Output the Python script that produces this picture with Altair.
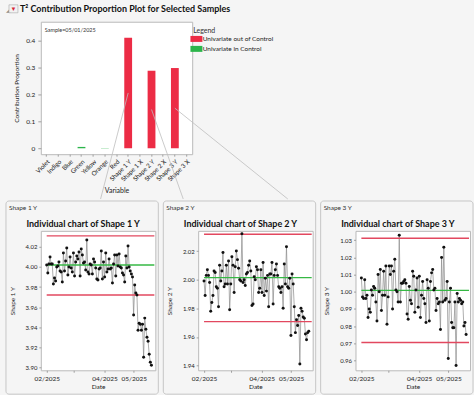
import altair as alt
import pandas as pd

# ---- contribution proportions for sample 05/01/2025 ----
variables = ["Violet", "Indigo", "Blue", "Green", "Yellow", "Orange", "Red",
             "Shape 1 Y", "Shape 1 X", "Shape 2 Y", "Shape 2 X", "Shape 3 Y", "Shape 3 X"]
contribution = [0, 0, 0, 0.005, 0, 0.001, 0, 0.411, 0, 0.288, 0, 0.298, 0]
status = ["Univariate in Control"] * 7 + [
    "Univariate out of Control", "Univariate in Control",
    "Univariate out of Control", "Univariate in Control",
    "Univariate out of Control", "Univariate in Control",
]
status_order = ["Univariate out of Control", "Univariate in Control"]

# ---- individual measurements (one per sample) ----
sample_dates = pd.date_range("2025-02-01", "2025-05-19", periods=95)

shape1_y = [
    4.002, 3.994, 4.003, 4.010, 4.003, 4.003, 3.983, 3.989, 3.986, 4.000,
    4.001, 4.005, 3.996, 3.995, 3.985, 4.014, 3.996, 4.006, 4.019, 3.992,
    4.000, 4.010, 3.999, 3.995, 4.014, 3.991, 4.005, 4.011, 4.008, 4.015,
    3.991, 4.018, 4.012, 4.004, 4.005, 3.997, 4.027, 3.995, 3.993, 4.003,
    4.002, 3.993, 4.008, 4.005, 3.999, 3.988, 3.987, 3.998, 3.999, 4.016,
    3.988, 4.005, 3.990, 4.014, 3.995, 3.998, 4.008, 3.998, 3.999, 3.984,
    4.003, 4.012, 3.991, 4.012, 4.001, 4.013, 4.000, 3.999, 3.994, 3.992,
    3.985, 4.011, 3.999, 4.021, 4.000, 3.996, 3.993, 3.990, 3.952, 3.982,
    3.974, 3.972, 3.937, 3.944, 3.943, 3.937, 3.943, 3.910, 3.949, 3.938,
    3.930, 3.926, 3.913, 3.905, 3.902,
]
shape2_y = [
    1.999, 1.989, 2.003, 2.007, 2.003, 1.998, 1.978, 1.984, 1.989, 2.006,
    2.005, 1.995, 1.994, 1.981, 2.010, 1.999, 2.006, 2.019, 1.995, 1.997,
    2.010, 1.997, 2.013, 1.979, 1.997, 2.016, 2.010, 1.991, 2.009, 2.020,
    2.014, 2.008, 2.000, 1.999, 2.032, 1.998, 2.000, 1.996, 2.004, 2.005,
    2.010, 2.013, 2.006, 1.982, 1.983, 2.002, 2.000, 2.009, 2.007, 1.991,
    1.994, 2.007, 1.991, 2.012, 1.989, 2.001, 1.992, 2.003, 1.981, 2.004,
    2.004, 2.012, 1.983, 2.003, 2.007, 2.011, 2.003, 1.995, 1.994, 1.991,
    1.995, 1.980, 2.011, 1.997, 2.023, 1.995, 1.994, 2.001, 1.961, 2.004,
    1.997, 1.981, 1.963, 1.972, 1.968, 1.975, 1.941, 1.980, 1.978, 1.974,
    1.973, 1.962, 1.958, 1.963, 1.964,
]
shape3_y = [
    1.008, 0.997, 0.996, 1.007, 0.996, 0.998, 0.985, 0.990, 0.988, 1.001,
    0.998, 1.003, 1.002, 0.994, 0.983, 1.010, 1.000, 1.013, 0.989, 0.998,
    1.012, 0.998, 1.015, 0.981, 0.997, 1.015, 1.010, 1.015, 0.990, 1.012,
    1.019, 1.001, 1.000, 0.994, 1.033, 0.994, 1.005, 1.005, 1.006, 1.007,
    1.005, 0.987, 0.984, 1.003, 0.995, 0.993, 1.012, 1.009, 0.988, 1.001,
    1.008, 0.991, 1.009, 0.985, 0.998, 1.006, 0.996, 0.993, 0.982, 1.007,
    1.002, 0.983, 1.006, 1.011, 1.013, 1.001, 1.002, 0.989, 0.996, 0.993,
    0.994, 0.978, 1.020, 0.994, 1.026, 0.995, 0.996, 1.006, 0.961, 0.994,
    1.002, 0.982, 0.979, 0.979, 0.994, 0.957, 0.999, 0.994, 0.996, 0.995,
    0.993, 0.994, 0.980, 0.982, 0.975,
]

# control limits: (LCL, centre, UCL)
shape1_limits = (3.972, 4.002, 4.031)
shape2_limits = (1.9707, 2.0014, 2.0317)
shape3_limits = (0.9704, 1.0008, 1.0312)

FONT = "Lato"
BAR_RED = "#ec2c45"
BAR_GREEN = "#2bb54a"
LIMIT_RED = "#e2485f"
LIMIT_GREEN = "#36b844"
INK = "#222222"
CONNECTOR = "#bdbdbd"

one_row = pd.DataFrame({"k": [0]})

# ---------------- contribution bar chart ----------------
TOP_W, TOP_H = 152, 133
contrib_df = pd.DataFrame({"Variable": variables, "Contribution": contribution, "Status": status})

x_var = alt.X(
    "Variable:N", sort=variables,
    scale=alt.Scale(paddingInner=0.33, paddingOuter=0.15),
    axis=alt.Axis(title="Variable", labelAngle=-45, labelFontSize=6.3, titleFontSize=7,
                  tickSize=2, labelPadding=2, titlePadding=4, labelOverlap=False,
                  titleX=TOP_W / 2, titleAlign="center"),
)
y_contrib = alt.Y(
    "Contribution:Q",
    scale=alt.Scale(domain=[-0.022, 0.47], nice=False, zero=False),
    axis=alt.Axis(title="Contribution Proportion", values=[0, 0.1, 0.2, 0.3, 0.4], format=".1~f",
                  labelFontSize=6.5, titleFontSize=6.5, tickSize=3, labelPadding=3, titlePadding=6,
                  labelOverlap=False),
)

bars = alt.Chart(contrib_df).mark_bar(opacity=1).encode(
    x=x_var,
    y=y_contrib,
    y2=alt.datum(0),
    color=alt.Color(
        "Status:N",
        scale=alt.Scale(domain=status_order, range=[BAR_RED, BAR_GREEN]),
        legend=alt.Legend(
            title="Legend", orient="none", legendX=153, legendY=5,
            titleFontSize=7, titleFontWeight="normal", titleColor="#333333", titlePadding=2,
            labelFontSize=6.5, labelColor=INK, labelOffset=3,
            symbolType="M-2,-1H2V1H-2Z", symbolSize=36, symbolStrokeWidth=0,
            symbolOpacity=1, rowPadding=3, padding=0,
        ),
    ),
)

# guide lines from each out-of-control bar (at half its height) to its individual chart
connector_ends = {"Shape 1 Y": (60, 178), "Shape 2 Y": (143, 178), "Shape 3 Y": (248, 178)}
connectors = []
for var_name, (ex, ey) in connector_ends.items():
    connectors.append(
        alt.Chart(contrib_df)
        .transform_filter(alt.datum.Variable == var_name)
        .transform_calculate(Contribution="datum.Contribution / 2")
        .mark_rule(color=CONNECTOR, strokeWidth=0.8)
        .encode(x=x_var, y=y_contrib, x2=alt.value(ex), y2=alt.value(ey))
    )

sample_label = alt.Chart(one_row).mark_text(
    align="left", baseline="alphabetic", fontSize=5.5, font=FONT, color="#333333"
).encode(x=alt.value(4), y=alt.value(10), text=alt.value("Sample=05/01/2025"))

report_title = alt.Chart(one_row).mark_text(
    align="left", baseline="alphabetic", fontSize=9, fontWeight="bold", font=FONT, color="#111111"
).encode(x=alt.value(-21), y=alt.value(-10), text=alt.value("T² Contribution Proportion Plot for Selected Samples"))

disclosure_icon = alt.Chart(one_row).mark_text(
    align="left", baseline="alphabetic", fontSize=6, color="#8a8a8a"
).encode(x=alt.value(-35), y=alt.value(-10), text=alt.value("◢"))

menu_box = alt.Chart(one_row).mark_rect(fill="#f2f2f2", stroke="#a8a8a8", strokeWidth=0.6).encode(
    x=alt.value(-32), x2=alt.value(-23), y=alt.value(-17), y2=alt.value(-9)
)
menu_arrow = alt.Chart(one_row).mark_text(
    align="center", baseline="middle", fontSize=6, color="#d62839"
).encode(x=alt.value(-27.5), y=alt.value(-12.8), text=alt.value("▼"))

top = alt.layer(
    bars, *connectors, sample_label, report_title, disclosure_icon, menu_box, menu_arrow
).properties(width=TOP_W, height=TOP_H)

# ---------------- individual control charts ----------------
PANEL_W, PANEL_H = 115, 140
month_ticks = [alt.DateTime(year=2025, month=m, date=1) for m in (2, 3, 4, 5)]
date_domain = [alt.DateTime(year=2025, month=1, date=26), alt.DateTime(year=2025, month=5, date=23)]


def individual_chart(name, values, limits, y_domain, y_ticks, y_format):
    lcl, centre, ucl = limits
    df = pd.DataFrame({"Date": sample_dates, "Value": values})
    # limit lines start at the first sample and run to the right edge
    lim_df = pd.DataFrame({
        "Date": [sample_dates[0]] * 3,
        "Value": [lcl, centre, ucl],
        "Kind": ["LCL", "Avg", "UCL"],
    })

    x = alt.X(
        "Date:T", scale=alt.Scale(domain=date_domain),
        axis=alt.Axis(title="Date", values=month_ticks,
                      labelExpr="month(datum.value) == 2 ? '' : timeFormat(datum.value, '%m/%Y')",
                      tickSize=2, labelPadding=3, titlePadding=2, labelOverlap=False,
                      labelFontSize=6.5, titleFontSize=6.5),
    )
    y = alt.Y(
        "Value:Q", scale=alt.Scale(domain=y_domain, nice=False, zero=False),
        axis=alt.Axis(title=name, values=y_ticks, format=y_format, tickSize=2, labelOverlap=False,
                      labelPadding=2, titlePadding=10, labelFontSize=6, titleFontSize=6.5),
    )

    frame = alt.Chart(one_row).mark_rect(
        filled=False, stroke="#c6c6c6", strokeWidth=1, cornerRadius=3
    ).encode(x=alt.value(-35), x2=alt.value(118), y=alt.value(-30), y2=alt.value(164))

    header = alt.Chart(one_row).mark_text(
        align="left", baseline="alphabetic", fontSize=6.5, font=FONT, color="#333333"
    ).encode(x=alt.value(-32), y=alt.value(-20.5), text=alt.value(name))

    title = alt.Chart(one_row).mark_text(
        align="center", baseline="alphabetic", fontSize=9, fontWeight="bold", font=FONT, color="#111111"
    ).encode(x=alt.value(42.5), y=alt.value(-3.5), text=alt.value(f"Individual chart of {name}"))

    base = alt.Chart(df).encode(x=x, y=y)
    trace = base.mark_line(color="#8a8a8a", strokeWidth=0.7)
    dots = base.mark_circle(color="#111111", size=9, opacity=1)

    limit_rules = alt.Chart(lim_df).mark_rule(strokeWidth=1.4).encode(
        x=x,
        x2=alt.value(PANEL_W - 1),
        y=y,
        color=alt.Color("Kind:N",
                        scale=alt.Scale(domain=["LCL", "Avg", "UCL"],
                                        range=[LIMIT_RED, LIMIT_GREEN, LIMIT_RED]),
                        legend=None),
    )

    return alt.layer(frame, header, title, trace, limit_rules, dots).properties(
        width=PANEL_W, height=PANEL_H
    )


panel1 = individual_chart("Shape 1 Y", shape1_y, shape1_limits, [3.897, 4.036],
                          [3.90, 3.92, 3.94, 3.96, 3.98, 4.00, 4.02], ".2f")
panel2 = individual_chart("Shape 2 Y", shape2_y, shape2_limits, [1.9367, 2.0341],
                          [1.94, 1.96, 1.98, 2.00, 2.02], ".2f")
panel3 = individual_chart("Shape 3 Y", shape3_y, shape3_limits, [0.9542, 1.0355],
                          [0.96, 0.97, 0.98, 0.99, 1.00, 1.01, 1.02, 1.03], ".2f")

bottom = alt.hconcat(panel1, panel2, panel3, spacing=3).resolve_scale(color="independent")

chart = (
    alt.vconcat(top, bottom, spacing=0)
    .resolve_scale(color="independent")
    .properties(padding={"left": 5, "top": 3, "right": 0, "bottom": 0}, background="#f5f5f5")
    .configure_view(stroke="#b9b9b9", strokeWidth=1, fill="white")
    .configure_axis(domain=False, grid=False, labelFont=FONT, titleFont=FONT,
                    labelColor=INK, titleColor=INK, titleFontWeight="normal",
                    tickColor="#8c8c8c", tickWidth=0.8, labelOverlap=False)
    .configure_legend(labelFont=FONT, titleFont=FONT)
    .configure_text(font=FONT)
)

chart.save("out.html", embed_options={"renderer": "svg", "actions": False})
